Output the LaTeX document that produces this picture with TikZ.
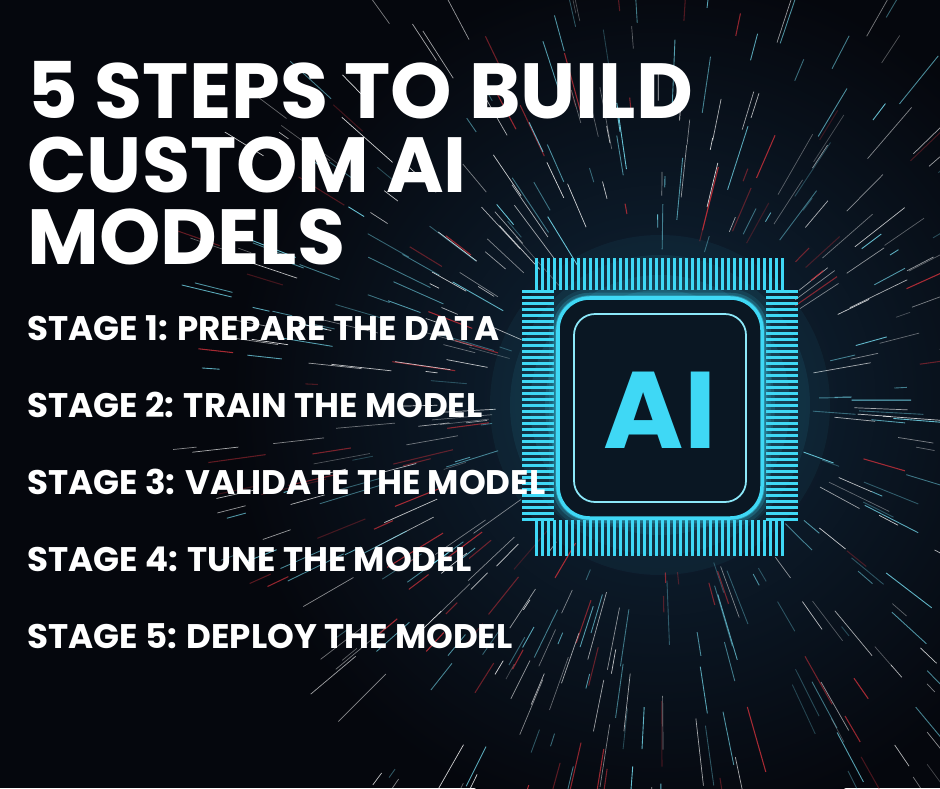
\documentclass[tikz,border=0pt]{standalone}
\usepackage{fontspec}
\setmainfont{Poppins}
\usetikzlibrary{shadings}
\definecolor{bgdark}{HTML}{05070D}
\definecolor{bgblue}{HTML}{10263A}
\definecolor{cyanglow}{HTML}{3FD8F5}
\definecolor{redstreak}{HTML}{C8303A}
\tikzset{
  title/.style={anchor=base west,text=white,font=\fontsize{44.5}{50}\selectfont\bfseries,inner sep=0pt},
  stage/.style={anchor=base west,text=white,font=\fontsize{19.4}{22}\selectfont\bfseries,inner sep=0pt},
  pin/.style={fill=cyanglow,draw=none}
}
\begin{document}
\begin{tikzpicture}[x=0.02cm,y=-0.02cm]
\useasboundingbox (0,0) rectangle (940,788);
\fill[bgdark] (0,0) rectangle (940,788);
\shade[inner color=bgblue,outer color=bgdark] (660,400) circle (430);
% streaks
\pgfmathsetseed{7}
\foreach \i in {1,...,520}{
  \pgfmathsetmacro{\ang}{rnd*360}
  \pgfmathsetmacro{\ra}{150+rnd*320}
  \pgfmathsetmacro{\rb}{\ra+10+rnd*60}
  \pgfmathsetmacro{\op}{0.25+rnd*0.6}
  \pgfmathsetmacro{\c}{rnd}
  \ifdim\c pt<0.2pt
    \draw[redstreak,opacity=\op,line width=0.6pt] (660,400)++(\ang:\ra) -- ++(\ang:\rb-\ra);
  \else\ifdim\c pt<0.55pt
    \draw[cyanglow!70!white,opacity=\op,line width=0.5pt] (660,400)++(\ang:\ra) -- ++(\ang:\rb-\ra);
  \else
    \draw[white,opacity=\op,line width=0.4pt] (660,400)++(\ang:\ra) -- ++(\ang:\rb-\ra);
  \fi\fi
}
% glow
\foreach \r/\o in {170/0.05,150/0.07,130/0.1,115/0.12}{
  \fill[cyanglow,opacity=\o] (660,405) circle (\r);
}
% pins
\foreach \k in {0,...,41}{
  \pgfmathsetmacro{\p}{535+\k*6}
  \fill[pin] (\p,258) rectangle ++(2.5,32);
  \fill[pin] (\p,520) rectangle ++(2.5,36);
}
\foreach \k in {0,...,38}{
  \pgfmathsetmacro{\p}{290+\k*6}
  \fill[pin] (522,\p) rectangle ++(32,2.5);
  \fill[pin] (766,\p) rectangle ++(32,2.5);
}
% chip body
\foreach \w/\o in {10/0.1,6/0.2,3/0.4}{
  \draw[cyanglow,opacity=\o,line width=\w pt,rounded corners=18] (558,298) rectangle (762,518);
}
\filldraw[fill=bgblue!60!black,draw=cyanglow,line width=2pt,rounded corners=18] (558,298) rectangle (762,518);
\draw[cyanglow!60,line width=1pt,rounded corners=12] (574,314) rectangle (746,502);
\node (ai) at (660,410) {\fontsize{62}{70}\selectfont\bfseries\textcolor{cyanglow}{AI}};
% text
\node[title] (t1) at (27,118) {5 STEPS TO BUILD};
\node[title] (t2) at (27,192) {CUSTOM AI};
\node[title] (t3) at (27,264) {MODELS};
\node[stage] (s1) at (27,340) {STAGE 1: PREPARE THE DATA};
\node[stage] (s2) at (27,417) {STAGE 2: TRAIN THE MODEL};
\node[stage] (s3) at (27,494) {STAGE 3: VALIDATE THE MODEL};
\node[stage] (s4) at (27,571) {STAGE 4: TUNE THE MODEL};
\node[stage] (s5) at (27,648) {STAGE 5: DEPLOY THE MODEL};
\end{tikzpicture}
\end{document}
